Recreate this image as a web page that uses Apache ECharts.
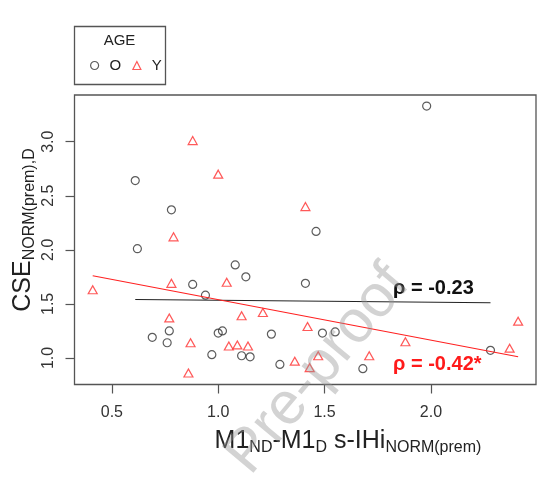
<!DOCTYPE html>
<html>
<head>
<meta charset="utf-8">
<script src="https://cdn.jsdelivr.net/npm/echarts@6/dist/echarts.min.js"></script>
<style>
  html, body { margin: 0; padding: 0; background: #fff; }
  #chart { width: 554px; height: 482px; }
</style>
</head>
<body>
<div id="chart"></div>
<script>
const xTicks = [0.5, 1.0, 1.5, 2.0]
const yTicks = [1.0, 1.5, 2.0, 2.5, 3.0]

// AGE = O (circles)
const oX = [0.61, 0.78, 1.98, 1.46, 0.62, 1.08, 1.13, 0.88, 1.41, 0.94, 0.77, 0.69,
            0.76, 1.00, 1.02, 1.25, 1.49, 1.55, 0.97, 1.11, 1.15, 1.29, 1.68, 2.28]
const oY = [2.64, 2.37, 3.33, 2.17, 2.01, 1.86, 1.75, 1.68, 1.69, 1.58, 1.25, 1.19,
            1.14, 1.23, 1.25, 1.22, 1.23, 1.24, 1.03, 1.02, 1.01, 0.94, 0.90, 1.07]

// AGE = Y (triangles)
const yX = [0.88, 1.00, 1.41, 0.79, 0.41, 0.78, 1.04, 0.77, 1.11, 1.21, 1.42, 0.87,
            1.05, 1.09, 1.14, 1.36, 1.43, 1.47, 0.86, 1.71, 1.88, 2.37, 2.41]
const yY = [3.01, 2.70, 2.40, 2.12, 1.63, 1.69, 1.70, 1.37, 1.39, 1.42, 1.29, 1.14,
            1.11, 1.12, 1.11, 0.97, 0.91, 1.02, 0.86, 1.02, 1.15, 1.09, 1.34]

// fitted lines (end points)
const fitOX = [0.61, 2.28]
const fitOY = [1.54, 1.51]
const fitYX = [0.41, 2.41]
const fitYY = [1.76, 1.01]

const rhoO = 'ρ = -0.23'
const rhoY = 'ρ = -0.42*'

const FONT = "'Liberation Sans', Arial, Helvetica, sans-serif"
const pairs = (xs, ys) => xs.map((x, i) => [x, ys[i]])

const chart = echarts.init(document.getElementById('chart'), null, { renderer: 'canvas' })

const subRich = {
  m: { fontSize: 25, lineHeight: 28, fontFamily: FONT, color: '#222' },
  s: { fontSize: 16, height: 14, verticalAlign: 'bottom', fontFamily: FONT, color: '#222' }
}

const option = {
  animation: false,
  backgroundColor: '#fff',
  textStyle: { fontFamily: FONT },
  grid: {
    left: 74.5, right: 18, top: 95, bottom: 97.5,
    show: true, borderColor: '#555', borderWidth: 1.3, backgroundColor: 'transparent'
  },
  legend: {
    data: ['O', 'Y'],
    left: 85, top: 53,
    itemWidth: 8, itemHeight: 8, itemGap: 11,
    selectedMode: false,
    textStyle: { fontSize: 15, color: '#222', padding: [0, 0, 0, 6], fontFamily: FONT },
    itemStyle: { borderWidth: 1.2 }
  },
  xAxis: {
    type: 'value',
    min: 0.3244, max: 2.494,
    axisLine: { show: false },
    splitLine: { show: false },
    axisTick: { show: true, customValues: xTicks, length: 9, lineStyle: { color: '#555', width: 1.2 } },
    axisLabel: {
      customValues: xTicks, margin: 20, fontSize: 16, color: '#333', fontFamily: FONT,
      formatter: v => v.toFixed(1)
    }
  },
  yAxis: {
    type: 'value',
    min: 0.754, max: 3.432,
    axisLine: { show: false },
    splitLine: { show: false },
    axisTick: { show: true, customValues: yTicks, length: 9, lineStyle: { color: '#555', width: 1.2 } },
    axisLabel: {
      customValues: yTicks, rotate: 90, margin: 18, fontSize: 16, color: '#333', fontFamily: FONT,
      formatter: v => v.toFixed(1)
    }
  },
  graphic: [
    {
      type: 'rect',
      shape: { x: 74.5, y: 26.5, width: 91, height: 58 },
      style: { fill: 'none', stroke: '#555', lineWidth: 1.3 }
    },
    {
      type: 'text', x: 119.5, y: 41,
      style: { text: 'AGE', fontSize: 15, fill: '#222', align: 'center', verticalAlign: 'middle', fontFamily: FONT }
    },
    {
      type: 'text', x: 348, y: 441,
      style: {
        text: '{m|M1}{s|ND}{m|-M1}{s|D}{m| s-IHi}{s|NORM(prem)}',
        rich: subRich, align: 'center', verticalAlign: 'middle', fill: '#222'
      }
    },
    {
      type: 'text', x: 23, y: 230, rotation: Math.PI / 2,
      style: {
        text: '{m|CSE}{s|NORM(prem),D}',
        rich: subRich, align: 'center', verticalAlign: 'middle', fill: '#222'
      }
    },
    {
      type: 'text', x: 393, y: 288, z: 10,
      style: { text: rhoO, fontSize: 20, fontWeight: 'bold', fill: '#111', align: 'left', verticalAlign: 'middle', fontFamily: FONT }
    },
    {
      type: 'text', x: 393, y: 364, z: 10,
      style: { text: rhoY, fontSize: 20, fontWeight: 'bold', fill: '#ff1a1a', align: 'left', verticalAlign: 'middle', fontFamily: FONT }
    },
    {
      type: 'text', x: 318, y: 370, rotation: 50 * Math.PI / 180, z: 20,
      style: { text: 'Pre-proof', fontSize: 60, fill: 'rgba(150,150,150,0.42)', align: 'center', verticalAlign: 'middle', fontFamily: FONT }
    }
  ],
  series: [
    {
      name: 'fitO', type: 'line', data: pairs(fitOX, fitOY), symbol: 'none', silent: true,
      lineStyle: { color: '#222', width: 1.1 }, z: 3
    },
    {
      name: 'fitY', type: 'line', data: pairs(fitYX, fitYY), symbol: 'none', silent: true,
      lineStyle: { color: '#ff2020', width: 1.1 }, z: 3
    },
    {
      name: 'O', type: 'scatter', data: pairs(oX, oY),
      symbol: 'circle', symbolSize: 8,
      itemStyle: { color: 'transparent', borderColor: '#333', borderWidth: 1.2 }, z: 2
    },
    {
      name: 'Y', type: 'scatter', data: pairs(yX, yY),
      symbol: 'triangle', symbolSize: [9, 8],
      itemStyle: { color: 'transparent', borderColor: '#ff3030', borderWidth: 1.2 }, z: 2
    }
  ]
}

chart.setOption(option)
</script>
</body>
</html>
